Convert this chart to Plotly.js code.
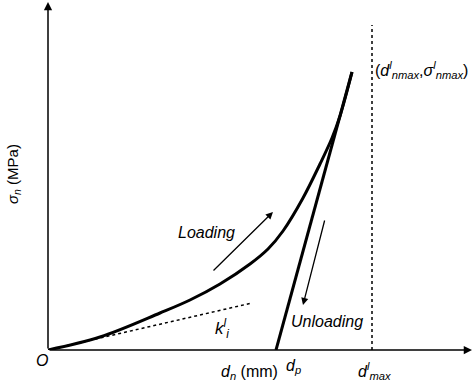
<!DOCTYPE html>
<html>
<head>
<meta charset="utf-8">
<script src="https://cdn.plot.ly/plotly-3.0.1.min.js"></script>
<style>html,body{margin:0;padding:0;background:#fff;}#chart{width:474px;height:388px;}</style>
</head>
<body>
<div id="chart"></div>
<script>
// Loading curve (schematic units)
const loadX = [0, 52, 112, 142, 172, 202, 220, 235, 255, 272, 284, 292, 304];
const loadY = [0, 13, 37, 50, 66, 86, 101, 119, 152, 186, 212, 234, 278];
// Unloading line
const unloadX = [228, 304];
const unloadY = [0, 278];
// Initial stiffness tangent
const tanX = [0, 204];
const tanY = [0, 47];
// Max displacement marker
const maxX = [324, 324];
const maxY = [0, 325];
// Axis extents
const xEnd = 424;
const yEnd = 348;

const black = '#000';
const traces = [
  {x: loadX, y: loadY, mode: 'lines', line: {color: black, width: 3, shape: 'spline', smoothing: 1}, hoverinfo: 'skip'},
  {x: unloadX, y: unloadY, mode: 'lines', line: {color: black, width: 3}, hoverinfo: 'skip'},
  {x: tanX, y: tanY, mode: 'lines', line: {color: black, width: 1.5, dash: 'dot'}, hoverinfo: 'skip'},
  {x: maxX, y: maxY, mode: 'lines', line: {color: black, width: 1.5, dash: 'dot'}, hoverinfo: 'skip'}
];

const F = 'Liberation Sans, Arial, sans-serif';
function arrow(x0, y0, x1, y1, w) {
  return {x: x1, y: y1, ax: x0, ay: y0, xref: 'x', yref: 'y', axref: 'x', ayref: 'y',
    text: '', showarrow: true, arrowhead: 2, arrowsize: 1.1, arrowwidth: w, arrowcolor: black, standoff: 0, startstandoff: 0};
}
function label(x, y, text, size, extra) {
  return Object.assign({x: x, y: y, xref: 'x', yref: 'y', text: text, showarrow: false,
    font: {family: F, size: size, color: black}, xanchor: 'center', yanchor: 'middle'}, extra || {});
}
function below(x, shift, text, size) {
  return {x: x, y: 0, xref: 'x', yref: 'paper', yshift: shift, text: text, showarrow: false,
    font: {family: F, size: size, color: black}, xanchor: 'center', yanchor: 'middle'};
}

const annotations = [
  arrow(0, 0, xEnd, 0, 1.5),
  arrow(0, 0, 0, yEnd, 1.5),
  arrow(164, 78, 225, 138, 1.3),
  arrow(277, 131, 255, 45, 1.3),
  label(158, 118, '<i>Loading</i>', 16),
  label(279, 29, '<i>Unloading</i>', 16),
  label(174, 22, '<i>k<sup>l</sup><sub>i</sub></i>', 17),
  {x: 0, y: 0, xref: 'paper', yref: 'paper', xshift: -6, yshift: -10, text: '<i>O</i>', showarrow: false,
    font: {family: F, size: 16, color: black}, xanchor: 'center', yanchor: 'middle'},
  below(201, -22, '<i>d<sub>n</sub></i> (mm)', 16),
  below(245, -16, '<i>d<sub>p</sub></i>', 16),
  below(326, -21, '<i>d<sup>l</sup><sub>max</sub></i>', 16),
  label(373, 280, '(<i>d<sup>l</sup><sub>nmax</sub></i>,<i>σ<sup>l</sup><sub>nmax</sub></i>)', 16),
  {xref: 'paper', yref: 'y', x: 0, y: 176, xshift: -35, text: '<i>σ<sub>n</sub></i> (MPa)', showarrow: false,
    textangle: -90, font: {family: F, size: 15, color: black}, xanchor: 'center', yanchor: 'middle'}
];

const layout = {
  width: 474, height: 388,
  margin: {l: 48, r: 2, t: 2, b: 38},
  paper_bgcolor: '#fff', plot_bgcolor: '#fff',
  showlegend: false,
  xaxis: {range: [0, xEnd], visible: false, fixedrange: true},
  yaxis: {range: [0, yEnd], visible: false, fixedrange: true},
  annotations: annotations
};

Plotly.newPlot('chart', traces, layout, {staticPlot: true, displayModeBar: false});
</script>
</body>
</html>
